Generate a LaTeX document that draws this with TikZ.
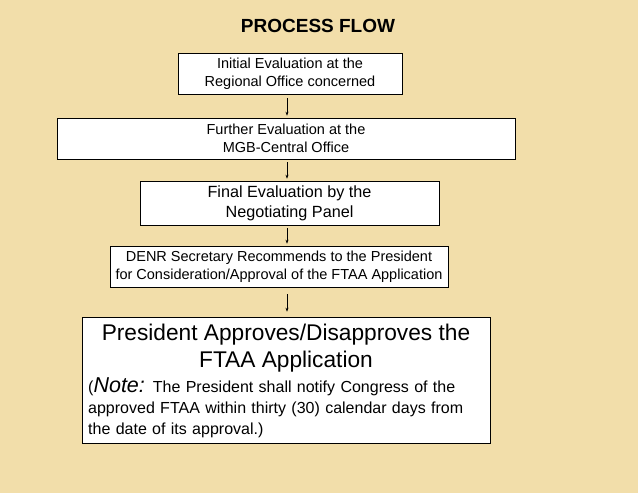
\documentclass[tikz,border=0pt]{standalone}
\usepackage{fontspec}
\usetikzlibrary{arrows.meta}
\setmainfont{Liberation Sans}
\definecolor{bg}{RGB}{242,222,170}
\begin{document}
\begin{tikzpicture}[x=1pt,y=-1pt,
  box/.style={draw=black,fill=white,line width=0.6pt,align=center,inner sep=0pt},
  arr/.style={-{Stealth[length=4pt,width=3pt]},line width=0.6pt}]
\fill[bg] (0,0) rectangle (638,493);
\useasboundingbox (0,0) rectangle (638,493);
\node[font=\bfseries\fontsize{19}{22}\selectfont] (t) at (318,26) {PROCESS FLOW};
\node[box,minimum width=224pt,minimum height=41pt,font=\fontsize{14.5}{18}\selectfont] (b1) at (290,73.5) {Initial Evaluation at the\\Regional Office concerned};
\node[box,minimum width=458pt,minimum height=41pt,font=\fontsize{14.5}{18}\selectfont] (b2) at (286,138.5) {Further Evaluation at the\\MGB-Central Office};
\node[box,minimum width=299pt,minimum height=44pt,font=\fontsize{16.2}{20}\selectfont] (b3) at (289.5,203) {Final Evaluation by the\\Negotiating Panel};
\node[box,minimum width=338pt,minimum height=41pt,font=\fontsize{14.5}{18}\selectfont] (b4) at (279,266.5) {DENR Secretary Recommends to the President\\for Consideration/Approval of the FTAA Application};
\node[box,minimum width=408pt,minimum height=126pt] (b5) at (286,380) {};
\node[align=center,font=\fontsize{22.7}{27}\selectfont] (h) at (286,348) {President Approves/Disapproves the\\FTAA Application};
\node[align=left,anchor=north west,text width=400pt,inner sep=0pt,font=\fontsize{16}{21}\selectfont] (n) at (88,378) {({\fontsize{21.5}{21}\selectfont\itshape Note:} The President shall notify Congress of the\\approved FTAA within thirty (30) calendar days from\\the date of its approval.)};
\draw[arr,shorten <=4pt,shorten >=2pt] (b1.south -| 287,0) -- (b2.north -| 287,0);
\draw[arr,shorten <=3pt,shorten >=2pt] (b2.south -| 287,0) -- (b3.north -| 287,0);
\draw[arr,shorten <=3pt,shorten >=2pt] (b3.south -| 287,0) -- (b4.north -| 287,0);
\draw[arr,shorten <=7pt,shorten >=5pt] (b4.south -| 287,0) -- (b5.north -| 287,0);
\end{tikzpicture}
\end{document}
